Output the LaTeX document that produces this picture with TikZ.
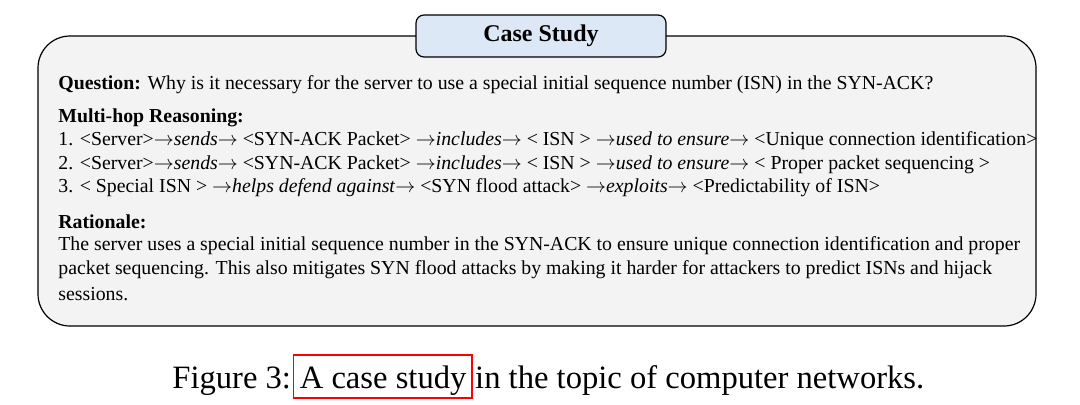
\documentclass[tikz,border=0pt]{standalone}
\usepackage{fontspec}
\setmainfont{Liberation Serif}
\begin{document}
\begin{tikzpicture}[x=0.5pt,y=-0.5pt,
  ln/.style={anchor=west,inner sep=0pt,font=\fontsize{9.9}{12}\selectfont},
  captxt/.style={anchor=base west,inner sep=0pt,font=\fontsize{16.3}{18}\selectfont}]
\useasboundingbox (0,0) rectangle (1080,404);
\draw[fill={rgb,255:red,243;green,243;blue,243},line width=0.6pt,rounded corners=16pt] (38,36) rectangle (1036,326);
\node[draw,line width=0.6pt,fill={rgb,255:red,220;green,232;blue,246},rounded corners=4pt,minimum width=125pt,minimum height=21pt,font=\fontsize{12}{14}\selectfont\bfseries] (title) at (541,36) {Case Study};
\node[ln] (q) at (58,85) {\textbf{Question:} Why is it necessary for the server to use a special initial sequence number (ISN) in the SYN-ACK?};
\node[ln] (mh) at (58,118) {\textbf{Multi-hop Reasoning:}};
\node[ln] (l1) at (58,141) {1. <Server>$\rightarrow$\textit{sends}$\rightarrow$ <SYN-ACK Packet> $\rightarrow$\textit{includes}$\rightarrow$ < ISN > $\rightarrow$\textit{used to ensure}$\rightarrow$ <Unique connection identification>};
\node[ln] (l2) at (58,165) {2. <Server>$\rightarrow$\textit{sends}$\rightarrow$ <SYN-ACK Packet> $\rightarrow$\textit{includes}$\rightarrow$ < ISN > $\rightarrow$\textit{used to ensure}$\rightarrow$ < Proper packet sequencing >};
\node[ln] (l3) at (58,188) {3. < Special ISN > $\rightarrow$\textit{helps defend against}$\rightarrow$ <SYN flood attack> $\rightarrow$\textit{exploits}$\rightarrow$ <Predictability of ISN>};
\node[ln] (ra) at (58,222) {\textbf{Rationale:}};
\node[ln] (r1) at (58,246) {The server uses a special initial sequence number in the SYN-ACK to ensure unique connection identification and proper};
\node[ln] (r2) at (58,270) {packet sequencing. This also mitigates SYN flood attacks by making it harder for attackers to predict ISNs and hijack};
\node[ln] (r3) at (58,294) {sessions.};
\node[captxt] (c1) at (172,388) {Figure 3:};
\node[captxt] (c2) at ([xshift=4pt]c1.base east) {A case study};
\node[captxt] (c3) at ([xshift=4pt]c2.base east) {in the topic of computer networks.};
\draw[red,line width=0.8pt] ([xshift=-3pt]c2.west |- 0,355) rectangle ([xshift=2.5pt]c2.east |- 0,398);
\end{tikzpicture}
\end{document}
